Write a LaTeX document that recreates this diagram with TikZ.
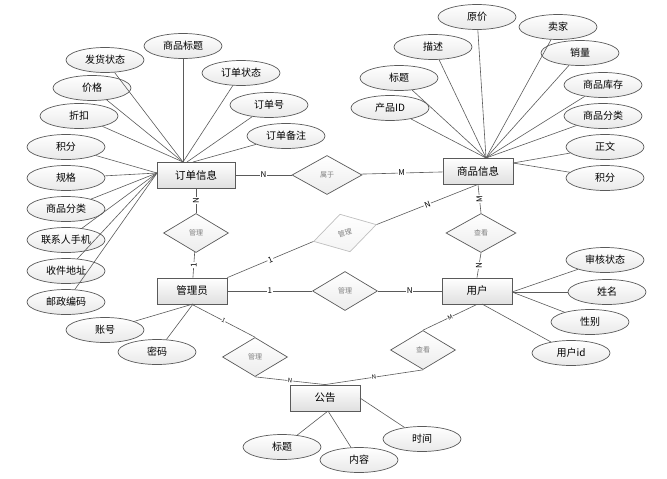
\documentclass[tikz,border=0pt]{standalone}
\usepackage{fontspec}
\setmainfont{Noto Sans CJK SC}
\usetikzlibrary{shapes.geometric,shadows}
\definecolor{bd}{HTML}{5A5A5A}
\definecolor{lg}{HTML}{DADADA}
\tikzset{
 entity/.style={rectangle,draw=bd,line width=0.8pt,minimum width=70pt,minimum height=26pt,inner sep=0pt,top color=white,bottom color=lg!85,font=\fontsize{10.5}{12}\selectfont,drop shadow={shadow xshift=1.3pt,shadow yshift=-1.3pt,opacity=0.25}},
 attr/.style={ellipse,draw=bd,line width=0.7pt,minimum width=78pt,minimum height=25pt,inner sep=0pt,top color=white,bottom color=lg!60,font=\fontsize{10}{12}\selectfont},
 rel/.style={diamond,draw=bd,line width=0.7pt,minimum width=65pt,minimum height=39pt,inner sep=0pt,top color=white,bottom color=lg!50,font=\fontsize{7}{8}\selectfont,text=gray},
 conn/.style={draw=bd,line width=0.6pt},
 lab/.style={fill=white,inner sep=0.8pt,font=\fontsize{8}{9}\selectfont},
 slab/.style={fill=white,inner sep=0.4pt,font=\fontsize{6}{7}\selectfont},
}
\begin{document}
\begin{tikzpicture}[x=1pt,y=-1pt]
\useasboundingbox (0,0) rectangle (667,479);
% entities
\node[entity,minimum width=78pt] (o) at (196,175) {订单信息};
\node[entity] (p) at (478,171) {商品信息};
\node[entity] (a) at (192,291) {管理员};
\node[entity] (u) at (477,291) {用户};
\node[entity] (g) at (325,398) {公告};
% relationships
\node[rel,minimum width=70pt] (r1) at (327,175) {属于};
\node[rel] (r2) at (196,233) {管理};
\node[rel,draw=gray!50,bottom color=lg!30,rotate=15] (r3) at (345,233) {管理};
\node[rel] (r4) at (345,291) {管理};
\node[rel,minimum width=70pt] (r5) at (481,233) {查看};
\node[rel] (r6) at (255,357) {管理};
\node[rel] (r7) at (423,350) {查看};
% attributes of 订单信息
\node[attr] (o1) at (183,46) {商品标题};
\node[attr] (o2) at (105,60) {发货状态};
\node[attr] (o3) at (241,73) {订单状态};
\node[attr] (o4) at (92,88) {价格};
\node[attr] (o5) at (269,105) {订单号};
\node[attr] (o6) at (79,116) {折扣};
\node[attr] (o7) at (286,136) {订单备注};
\node[attr] (o8) at (66,147) {积分};
\node[attr] (o9) at (66,178) {规格};
\node[attr] (o10) at (66,209) {商品分类};
\node[attr] (o11) at (66,240) {联系人手机};
\node[attr] (o12) at (66,271) {收件地址};
\node[attr] (o13) at (66,302) {邮政编码};
% attributes of 商品信息
\node[attr] (p1) at (477,17) {原价};
\node[attr] (p2) at (558,27) {卖家};
\node[attr] (p3) at (433,47) {描述};
\node[attr] (p4) at (580,53) {销量};
\node[attr] (p5) at (399,78) {标题};
\node[attr] (p6) at (603,85) {商品库存};
\node[attr] (p7) at (390,108) {产品ID};
\node[attr] (p8) at (603,116) {商品分类};
\node[attr] (p9) at (605,147) {正文};
\node[attr] (p10) at (605,178) {积分};
% attributes of 用户
\node[attr] (u1) at (605,260) {审核状态};
\node[attr] (u2) at (607,292) {姓名};
\node[attr] (u3) at (590,322) {性别};
\node[attr] (u4) at (571,353) {用户id};
% attributes of 管理员
\node[attr] (a1) at (105,330) {账号};
\node[attr] (a2) at (157,352) {密码};
% attributes of 公告
\node[attr] (g1) at (282,447) {标题};
\node[attr] (g2) at (359,460) {内容};
\node[attr] (g3) at (422,439) {时间};
% anchor points
\coordinate (ot) at (183,162);
\coordinate (ot2) at (187,162);
\coordinate (ot3) at (193,162);
\coordinate (ol) at (157,173);
\coordinate (pt) at (486,158);
\coordinate (pr) at (513,163);
\coordinate (ur) at (512,292);
\coordinate (ub) at (482,304);
\coordinate (ab) at (193,304);
\coordinate (gb) at (328,411);
\coordinate (gr) at (360,398);
% attribute lines
\foreach \n in {o1,o2,o3,o4,o6} \draw[conn] (\n) -- (ot);
\draw[conn] (o5) -- (ot2);
\draw[conn] (o7) -- (ot3);
\foreach \n in {o8,o9,o10,o11,o12,o13} \draw[conn] (\n) -- (ol);
\foreach \n in {p1,p2,p3,p4,p5,p6,p7,p8} \draw[conn] (\n) -- (pt);
\foreach \n in {p9,p10} \draw[conn] (\n) -- (pr);
\foreach \n in {u1,u2,u3} \draw[conn] (\n) -- (ur);
\draw[conn] (u4) -- (ub);
\foreach \n in {a1,a2} \draw[conn] (\n) -- (ab);
\foreach \n in {g1,g2} \draw[conn] (\n) -- (gb);
\draw[conn] (g3) -- (gr);
% relationship lines
\draw[conn] (o) -- node[lab]{N} (r1);
\draw[conn] (r1) -- node[lab]{M} (p);
\draw[conn] (o) -- node[lab,rotate=90]{N} (r2);
\draw[conn] (r2) -- node[lab,rotate=90]{1} (a);
\draw[conn] (a.north east) -- node[lab,sloped]{1} (r3.west);
\draw[conn] (r3.east) -- node[lab,sloped]{N} (p.south);
\draw[conn] (a) -- node[lab]{1} (r4);
\draw[conn] (r4) -- node[lab]{N} (u);
\draw[conn] (p.south) -- node[lab,rotate=90]{M} (r5.north);
\draw[conn] (r5.south) -- node[lab,rotate=90]{N} (u.north);
\draw[conn] (a.south) -- node[slab,sloped]{1} (r6.north);
\draw[conn] (r6.south) -- node[slab,sloped]{N} (g.north);
\draw[conn] (u.south) -- node[slab,sloped]{M} (r7.north);
\draw[conn] (r7.south) -- node[slab,sloped]{N} (g.north);
\end{tikzpicture}
\end{document}
